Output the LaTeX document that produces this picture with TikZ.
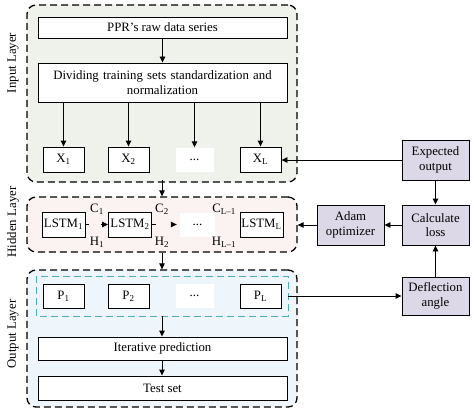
\documentclass[tikz,border=0pt]{standalone}
\usepackage{fontspec}
\setmainfont{Liberation Serif}
\usetikzlibrary{arrows.meta,calc}
\definecolor{inFill}{HTML}{EFF2EB}
\definecolor{hidFill}{HTML}{FBF3F2}
\definecolor{outFill}{HTML}{EFF6FB}
\definecolor{purp}{HTML}{DDD8E7}
\definecolor{cyanD}{HTML}{4FAAB9}
\tikzset{
  txt/.style={font=\fontsize{12.8}{14.5}\selectfont},
  layer/.style={draw, line width=1.3pt, dash pattern=on 7pt off 4pt, rounded corners=9pt, inner sep=0pt},
  wbox/.style={draw, line width=0.9pt, fill=white, inner sep=1pt, txt, align=center},
  pbox/.style={draw, line width=0.9pt, fill=purp, inner sep=1pt, txt, align=center, minimum width=67pt},
  dotbox/.style={fill=white, inner sep=0pt, txt, minimum width=38pt, minimum height=24pt},
  lbl/.style={txt, inner sep=0pt},
  arr/.style={line width=0.9pt, -{Triangle[length=6pt,width=5.5pt]}},
  ln/.style={line width=0.9pt},
}
\newcommand{\sub}[1]{\textsubscript{#1}}
\begin{document}
\begin{tikzpicture}[x=1pt,y=-1pt]
\useasboundingbox (0,0) rectangle (474,412);
% layers
\node[layer, fill=inFill, minimum width=270pt, minimum height=177pt] (inL) at (162,93.5) {};
\node[layer, fill=hidFill, minimum width=270pt, minimum height=55pt] (hidL) at (162,224.5) {};
\node[layer, fill=outFill, minimum width=270pt, minimum height=137pt] (outL) at (162,338.5) {};
% layer labels
\node[lbl, rotate=90] (inLab) at (13,63) {Input Layer};
\node[lbl, rotate=90] (hidLab) at (13,222) {Hidden Layer};
\node[lbl, rotate=90] (outLab) at (13,334) {Output Layer};
% input layer contents
\node[wbox, minimum width=249pt, minimum height=21pt] (ppr) at (162.5,27.5) {PPR’s raw data series};
\node[wbox, minimum width=249pt, minimum height=39pt, text width=245pt] (div) at (162.5,82.5) {Dividing training sets standardization and\\normalization};
\node[wbox, minimum width=41pt, minimum height=25pt] (x1) at (63.5,159.5) {X\sub{1}};
\node[wbox, minimum width=41pt, minimum height=25pt] (x2) at (128.5,159.5) {X\sub{2}};
\node[dotbox] (xd) at (194.5,159.5) {...};
\node[wbox, minimum width=41pt, minimum height=25pt] (xL) at (260.5,159.5) {X\sub{L}};
\draw[arr] (ppr) -- (div);
\draw[arr] (div.south -| x1) -- (x1);
\draw[arr] (div.south -| x2) -- (x2);
\draw[arr] (div.south -| xd) -- (xd);
\draw[arr] (div.south -| xL) -- (xL);
% hidden layer contents
\node[wbox, minimum width=43pt, minimum height=25pt] (l1) at (63.5,224.5) {LSTM\sub{1}};
\node[wbox, minimum width=43pt, minimum height=25pt] (l2) at (130,224.5) {LSTM\sub{2}};
\node[dotbox, minimum width=35pt] (ld) at (197.5,224.5) {...};
\node[wbox, minimum width=43pt, minimum height=25pt] (lL) at (261.5,224.5) {LSTM\sub{L}};
\node[lbl] (c1) at (97,209) {C\sub{1}};
\node[lbl] (h1) at (97,242) {H\sub{1}};
\node[lbl] (c2) at (162,209) {C\sub{2}};
\node[lbl] (h2) at (162,242) {H\sub{2}};
\node[lbl] (cl) at (224,209) {C\sub{L--1}};
\node[lbl] (hl) at (224,242) {H\sub{L--1}};
\draw[ln] (l1.east) -- ++(4,0);
\draw[arr] ($(l2.west)+(-7,0)$) -- (l2.west);
\draw[ln] (l2.east) -- ++(4,0);
\draw[arr] ($(ld.west)+(-8,0)$) -- ($(ld.west)+(-3,0)$);
% output layer contents
\draw[cyanD, line width=1pt, dash pattern=on 7pt off 4pt] (36,276) rectangle (288,316);
\coordinate (cyS) at (162,316);
\coordinate (cyE) at (288,296);
\node[wbox, minimum width=41pt, minimum height=24pt] (p1) at (63.5,296) {P\sub{1}};
\node[wbox, minimum width=41pt, minimum height=24pt] (p2) at (128.5,296) {P\sub{2}};
\node[dotbox] (pd) at (194.5,296) {...};
\node[wbox, minimum width=41pt, minimum height=24pt] (pL) at (260.5,296) {P\sub{L}};
\node[wbox, minimum width=249pt, minimum height=23pt] (iter) at (162.5,348.5) {Iterative prediction};
\node[wbox, minimum width=249pt, minimum height=24pt] (test) at (162.5,388) {Test set};
\draw[arr] (cyS) -- (cyS |- iter.north);
\draw[arr] (iter.south -| cyS) -- (test.north -| cyS);
% between layers
\draw[arr] ($(inL.south)+(0,-3)$) -- (hidL.north);
\draw[arr] (hidL.south) -- (outL.north);
% right side
\node[pbox, minimum height=40pt] (exp) at (435.5,160) {Expected\\output};
\node[pbox, minimum height=40pt] (calc) at (435.5,225) {Calculate\\loss};
\node[pbox, minimum height=40pt] (adam) at (350.5,225) {Adam\\optimizer};
\node[pbox, minimum height=38pt] (defl) at (435.5,296) {Deflection\\angle};
\draw[arr] (exp.west) -- (exp.west -| xL.east);
\draw[arr] (exp) -- (calc);
\draw[arr] (defl) -- (calc);
\draw[arr] (calc) -- (adam);
\draw[arr] (adam.west) -- (adam.west -| hidL.east);
\draw[arr] (cyE) -- (defl.west);
\end{tikzpicture}
\end{document}
